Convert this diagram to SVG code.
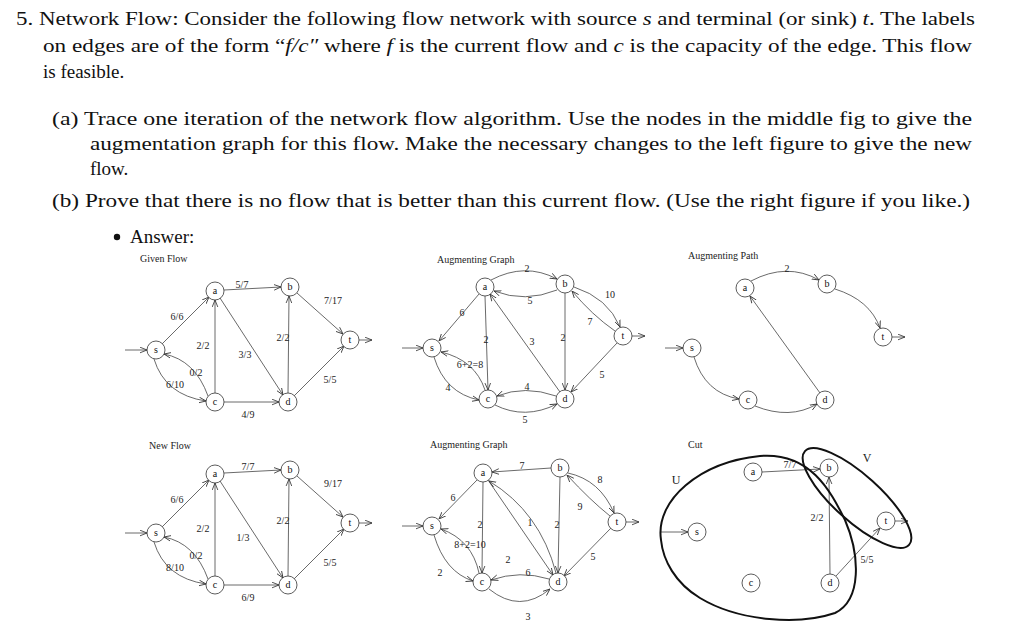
<svg xmlns="http://www.w3.org/2000/svg" width="1024" height="624" viewBox="0 0 1024 624">
<defs>
<marker id="ah" viewBox="0 0 10 10" refX="10" refY="5" markerWidth="7" markerHeight="7" orient="auto" markerUnits="userSpaceOnUse"><path d="M0,1 L10,5 L0,9" fill="none" stroke="#333" stroke-width="1.2"/></marker>
</defs>
<style>
.q{font-family:"Liberation Serif","DejaVu Serif",serif;font-size:19px;fill:#111}
.i{font-style:italic}
.ti{font-family:"Liberation Serif","DejaVu Serif",serif;font-size:10px;fill:#222}
.lb{font-family:"Liberation Serif","DejaVu Serif",serif;font-size:10px;fill:#222;text-anchor:middle}
.nd circle{fill:#fff;stroke:#333;stroke-width:0.8}
.nd text{font-family:"Liberation Serif","DejaVu Serif",serif;font-size:10px;fill:#111;text-anchor:middle}
.e path{fill:none;stroke:#444;stroke-width:0.8;marker-end:url(#ah)}
.blob{fill:none;stroke:#111;stroke-width:2}
</style>
<rect width="1024" height="624" fill="#fff"/>
<g id="question">
<text class="q" x="16" y="25" textLength="959" lengthAdjust="spacingAndGlyphs">5.  Network Flow: Consider the following flow network with source <tspan class="i">s</tspan> and terminal (or sink) <tspan class="i">t</tspan>. The labels</text>
<text class="q" x="43" y="52" textLength="929" lengthAdjust="spacingAndGlyphs">on edges are of the form “<tspan class="i">f/c″</tspan> where <tspan class="i">f</tspan> is the current flow and <tspan class="i">c</tspan> is the capacity of the edge. This flow</text>
<text class="q" x="43" y="78">is feasible.</text>
<text class="q" x="52" y="125" textLength="920" lengthAdjust="spacingAndGlyphs">(a) Trace one iteration of the network flow algorithm. Use the nodes in the middle fig to give the</text>
<text class="q" x="90" y="150" textLength="882" lengthAdjust="spacingAndGlyphs">augmentation graph for this flow. Make the necessary changes to the left figure to give the new</text>
<text class="q" x="90" y="175">flow.</text>
<text class="q" x="52" y="207" textLength="918" lengthAdjust="spacingAndGlyphs">(b) Prove that there is no flow that is better than this current flow. (Use the right figure if you like.)</text>
<circle cx="117" cy="237" r="3.2" fill="#111"/>
<text class="q" x="130" y="243">Answer:</text>
</g>
<g id="titles">
<text class="ti" x="140" y="262">Given Flow</text>
<text class="ti" x="437" y="263">Augmenting Graph</text>
<text class="ti" x="688" y="259">Augmenting Path</text>
<text class="ti" x="149" y="449">New Flow</text>
<text class="ti" x="430" y="448">Augmenting Graph</text>
<text class="ti" x="688" y="448">Cut</text>
</g>
<g id="connectors" class="e">
<path d="M125,350 L147,350"/><path d="M359,340 L372,340"/>
<path d="M162,344 L209,297"/><path d="M224,290 L281,287"/><path d="M297,293 L343,334"/>
<path d="M220,298 L283,395"/><path d="M288,393 L289,296"/><path d="M294,396 L344,346"/>
<path d="M215,393 L215,300"/><path d="M224,402 L279,402"/>
<path d="M154,359 Q165,395 206,401"/><path d="M208,396 Q195,360 164,354"/>
<path d="M125,533 L147,533"/><path d="M359,523 L372,523"/>
<path d="M162,527 L209,480"/><path d="M224,473 L281,470"/><path d="M297,476 L343,517"/>
<path d="M220,481 L283,578"/><path d="M288,576 L289,479"/><path d="M294,579 L344,529"/>
<path d="M215,576 L215,483"/><path d="M224,585 L279,585"/>
<path d="M154,542 Q165,578 206,584"/><path d="M208,579 Q195,543 164,537"/>
<path d="M402,348 L423,348"/><path d="M632,336 L645,336"/>
<path d="M491,280 Q525,262 557,279"/><path d="M557,290 Q525,303 494,291"/>
<path d="M479,294 L439,341"/><path d="M485,296 L488,390"/><path d="M560,392 L490,294"/>
<path d="M565,293 L565,390"/><path d="M574,287 Q608,298 620,327"/><path d="M615,331 Q592,315 572,291"/>
<path d="M617,343 L571,392"/><path d="M485,390 Q475,360 441,352"/><path d="M434,357 Q445,393 479,400"/>
<path d="M556,396 Q525,385 497,396"/><path d="M495,405 Q525,420 557,404"/>
<path d="M402,526 L423,526"/><path d="M626,522 L639,522"/>
<path d="M551,468 L492,472"/><path d="M477,480 L439,519"/><path d="M483,482 L482,573"/>
<path d="M488,480 L553,575"/><path d="M556,573 Q540,512 489,481"/><path d="M560,477 L558,573"/>
<path d="M568,473 Q600,480 614,513"/><path d="M610,516 Q590,500 567,475"/><path d="M611,528 L564,576"/>
<path d="M479,573 Q472,540 441,529"/><path d="M434,535 Q445,572 473,581"/>
<path d="M549,579 Q520,570 491,580"/><path d="M489,589 Q520,614 550,589"/>
<path d="M665,348 L683,348"/><path d="M892,337 L905,337"/>
<path d="M751,281 Q787,262 819,280"/><path d="M835,289 Q870,300 880,328"/>
<path d="M820,393 L750,296"/><path d="M694,357 Q705,393 739,399"/><path d="M755,406 Q790,420 817,404"/>
<path d="M660,532 L688,532"/><path d="M895,521 L908,521"/>
<path d="M762,472 L820,469"/><path d="M830,574 L829,477"/><path d="M836,576 L880,528"/>
</g>
<g id="edge-labels">
<text class="lb" x="242" y="288">5/7</text><text class="lb" x="333" y="304">7/17</text><text class="lb" x="177" y="320">6/6</text>
<text class="lb" x="203" y="349">2/2</text><text class="lb" x="245" y="358">3/3</text><text class="lb" x="283" y="341">2/2</text>
<text class="lb" x="196" y="376">0/2</text><text class="lb" x="175" y="388">6/10</text><text class="lb" x="248" y="418">4/9</text><text class="lb" x="330" y="383">5/5</text>
<text class="lb" x="248" y="470">7/7</text><text class="lb" x="333" y="487">9/17</text><text class="lb" x="177" y="503">6/6</text>
<text class="lb" x="203" y="532">2/2</text><text class="lb" x="243" y="541">1/3</text><text class="lb" x="283" y="524">2/2</text>
<text class="lb" x="196" y="559">0/2</text><text class="lb" x="175" y="571">8/10</text><text class="lb" x="248" y="601">6/9</text><text class="lb" x="330" y="566">5/5</text>
<text class="lb" x="527" y="272">2</text><text class="lb" x="530" y="304">5</text><text class="lb" x="462" y="316">6</text>
<text class="lb" x="486" y="343">2</text><text class="lb" x="532" y="345">3</text><text class="lb" x="563" y="341">2</text>
<text class="lb" x="610" y="298">10</text><text class="lb" x="590" y="325">7</text><text class="lb" x="602" y="378">5</text>
<text class="lb" x="470" y="368">6+2=8</text><text class="lb" x="448" y="391">4</text><text class="lb" x="527" y="390">4</text><text class="lb" x="525" y="423">5</text>
<text class="lb" x="522" y="469">7</text><text class="lb" x="453" y="501">6</text><text class="lb" x="480" y="528">2</text>
<text class="lb" x="508" y="563">2</text><text class="lb" x="530" y="526">1</text><text class="lb" x="557" y="528">2</text>
<text class="lb" x="600" y="483">8</text><text class="lb" x="580" y="510">9</text><text class="lb" x="593" y="560">5</text>
<text class="lb" x="470" y="548">8+2=10</text><text class="lb" x="440" y="576">2</text><text class="lb" x="528" y="576">6</text><text class="lb" x="528" y="620">3</text>
<text class="lb" x="787" y="272">2</text>
<text class="lb" x="790" y="468">7/7</text><text class="lb" x="817" y="521">2/2</text><text class="lb" x="867" y="563">5/5</text>
<text class="lb" style="font-size:12px" x="676" y="484">U</text><text class="lb" style="font-size:12px" x="867" y="462">V</text>
</g>
<g id="cut-sets">
<path class="blob" d="M661,540 C655,500 700,462 760,456 C810,452 830,490 845,520 C860,555 862,600 835,613 C800,625 740,622 700,598 C675,583 663,560 661,540 Z"/>
<ellipse class="blob" cx="857" cy="498" rx="70" ry="23" transform="rotate(42 857 498)"/>
</g>
<g id="nodes" class="nd">
<g id="gf-s"><circle cx="156" cy="350" r="9"/><text x="156" y="353">s</text></g>
<g id="gf-a"><circle cx="215" cy="291" r="9"/><text x="215" y="294">a</text></g>
<g id="gf-b"><circle cx="290" cy="287" r="9"/><text x="290" y="290">b</text></g>
<g id="gf-t"><circle cx="350" cy="340" r="9"/><text x="350" y="343">t</text></g>
<g id="gf-c"><circle cx="215" cy="402" r="9"/><text x="215" y="405">c</text></g>
<g id="gf-d"><circle cx="288" cy="402" r="9"/><text x="288" y="405">d</text></g>
<g id="nf-s"><circle cx="156" cy="533" r="9"/><text x="156" y="536">s</text></g>
<g id="nf-a"><circle cx="215" cy="474" r="9"/><text x="215" y="477">a</text></g>
<g id="nf-b"><circle cx="290" cy="470" r="9"/><text x="290" y="473">b</text></g>
<g id="nf-t"><circle cx="350" cy="523" r="9"/><text x="350" y="526">t</text></g>
<g id="nf-c"><circle cx="215" cy="585" r="9"/><text x="215" y="588">c</text></g>
<g id="nf-d"><circle cx="288" cy="585" r="9"/><text x="288" y="588">d</text></g>
<g id="ag1-s"><circle cx="432" cy="348" r="9"/><text x="432" y="351">s</text></g>
<g id="ag1-a"><circle cx="485" cy="287" r="9"/><text x="485" y="290">a</text></g>
<g id="ag1-b"><circle cx="565" cy="284" r="9"/><text x="565" y="287">b</text></g>
<g id="ag1-t"><circle cx="623" cy="336" r="9"/><text x="623" y="339">t</text></g>
<g id="ag1-c"><circle cx="488" cy="399" r="9"/><text x="488" y="402">c</text></g>
<g id="ag1-d"><circle cx="565" cy="399" r="9"/><text x="565" y="402">d</text></g>
<g id="ag2-s"><circle cx="432" cy="526" r="9"/><text x="432" y="529">s</text></g>
<g id="ag2-a"><circle cx="483" cy="473" r="9"/><text x="483" y="476">a</text></g>
<g id="ag2-b"><circle cx="560" cy="468" r="9"/><text x="560" y="471">b</text></g>
<g id="ag2-t"><circle cx="617" cy="522" r="9"/><text x="617" y="525">t</text></g>
<g id="ag2-c"><circle cx="482" cy="582" r="9"/><text x="482" y="585">c</text></g>
<g id="ag2-d"><circle cx="558" cy="582" r="9"/><text x="558" y="585">d</text></g>
<g id="ap-s"><circle cx="692" cy="348" r="9"/><text x="692" y="351">s</text></g>
<g id="ap-a"><circle cx="745" cy="288" r="9"/><text x="745" y="291">a</text></g>
<g id="ap-b"><circle cx="827" cy="284" r="9"/><text x="827" y="287">b</text></g>
<g id="ap-t"><circle cx="883" cy="337" r="9"/><text x="883" y="340">t</text></g>
<g id="ap-c"><circle cx="748" cy="400" r="9"/><text x="748" y="403">c</text></g>
<g id="ap-d"><circle cx="825" cy="400" r="9"/><text x="825" y="403">d</text></g>
<g id="cut-s"><circle cx="697" cy="532" r="9"/><text x="697" y="535">s</text></g>
<g id="cut-a"><circle cx="753" cy="472" r="9"/><text x="753" y="475">a</text></g>
<g id="cut-b"><circle cx="829" cy="468" r="9"/><text x="829" y="471">b</text></g>
<g id="cut-t"><circle cx="886" cy="521" r="9"/><text x="886" y="524">t</text></g>
<g id="cut-c"><circle cx="751" cy="583" r="9"/><text x="751" y="586">c</text></g>
<g id="cut-d"><circle cx="830" cy="583" r="9"/><text x="830" y="586">d</text></g>
</g>
</svg>
